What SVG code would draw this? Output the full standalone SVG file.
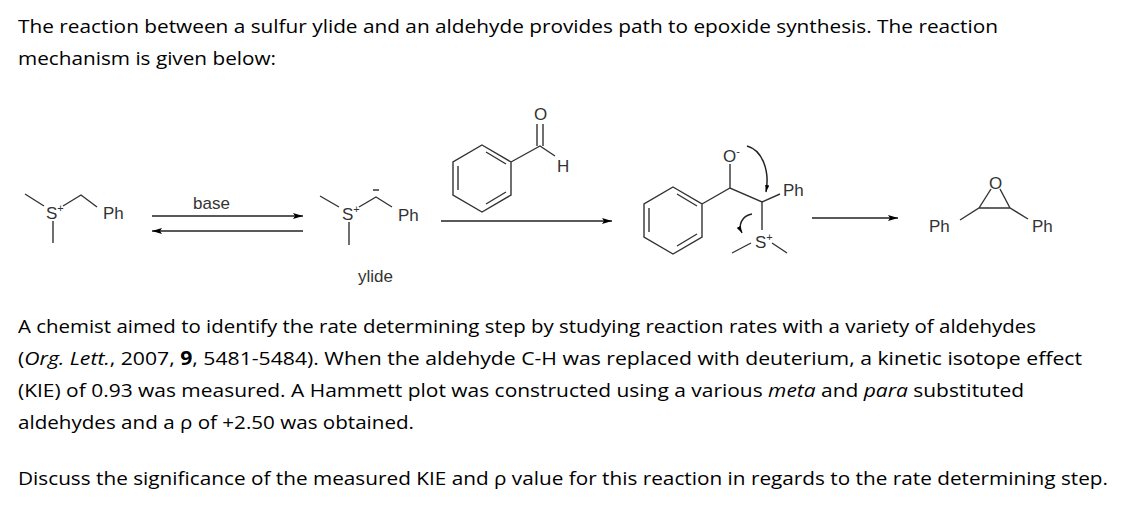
<svg xmlns="http://www.w3.org/2000/svg" width="1146" height="508" viewBox="0 0 1146 508">
<defs>
<marker id="ah" viewBox="0 0 10 6" refX="10" refY="3" markerWidth="10" markerHeight="6" orient="auto" markerUnits="userSpaceOnUse"><path d="M0,0 L10,3 L0,6 L2,3 Z" fill="#000"/></marker>
<marker id="ahs" viewBox="0 0 10 6" refX="10" refY="3" markerWidth="7" markerHeight="5" orient="auto" markerUnits="userSpaceOnUse"><path d="M0,0 L10,3 L0,6 Z" fill="#000"/></marker>
</defs>
<style>
.t{font-family:"Open Sans","Liberation Sans",sans-serif;font-size:19px;fill:#000}
.c{font-family:"Liberation Sans",Arial,sans-serif;font-size:17px;fill:#333}
.sup{font-size:11px}
.b{stroke:#333;stroke-width:1.4;fill:none}
.a{stroke:#222;stroke-width:1.5;fill:none}
</style>
<rect width="1146" height="508" fill="#fff"/>
<g id="intro">
<text class="t" x="18" y="33" textLength="980" lengthAdjust="spacingAndGlyphs">The reaction between a sulfur ylide and an aldehyde provides path to epoxide synthesis. The reaction</text>
<text class="t" x="18" y="65" textLength="258" lengthAdjust="spacingAndGlyphs">mechanism is given below:</text>
</g>
<g id="sulfonium">
<path class="b" d="M25,194 L44,206 M53,221 L53,243 M63,206 L81,195 L97,207"/>
<text class="c" x="46" y="219">S<tspan class="sup" dy="-7">+</tspan></text>
<text class="c" x="103" y="219">Ph</text>
</g>
<g id="ylide">
<path class="b" d="M320,196 L339,207 M349,222 L349,245 M359,207 L376,197 L392,207 M373,190 L379,190"/>
<text class="c" x="342" y="220">S<tspan class="sup" dy="-7">+</tspan></text>
<text class="c" x="398" y="221">Ph</text>
<text class="c" x="358" y="282">ylide</text>
</g>
<g id="benzaldehyde">
<path class="b" d="M482,145 L511,162 L511,195 L482,212 L453,195 L453,162 Z M486,152 L506,164 M506,192 L486,204 M458,190 L458,166 M511,162 L540,146 L555,156 M537,146 L537,124 M543,146 L543,124"/>
<text class="c" x="534" y="120">O</text>
<text class="c" x="557" y="172">H</text>
</g>
<g id="alkoxide">
<path class="b" d="M673,187 L702,204 L702,237 L673,254 L644,237 L644,204 Z M677,194 L697,206 M697,234 L677,246 M649,232 L649,208 M702,204 L730,188 L762,202 L780,194 M730,188 L730,164 M762,202 L762,230 M732,253 L751,243 M772,243 L787,253"/>
<text class="c" x="723" y="162">O<tspan class="sup" dy="-7">-</tspan></text>
<text class="c" x="783" y="196">Ph</text>
<text class="c" x="755" y="248">S<tspan class="sup" dy="-7">+</tspan></text>
<path class="a" d="M747,146 C762,150 770,170 766,192" marker-end="url(#ahs)"/>
<path class="a" d="M752,214 C741,216 738,226 742,233" marker-end="url(#ahs)"/>
</g>
<g id="epoxide">
<path class="b" d="M960,220 L979,208 L1010,208 L1028,219 M979,208 L991,189 M1010,208 L1000,189"/>
<text class="c" x="989" y="189">O</text>
<text class="c" x="929" y="232">Ph</text>
<text class="c" x="1032" y="232">Ph</text>
</g>
<g id="connectors">
<line class="a" x1="152" y1="216" x2="303" y2="216" marker-end="url(#ah)"/>
<line class="a" x1="303" y1="231" x2="152" y2="231" marker-end="url(#ah)"/>
<text class="c" x="193" y="209">base</text>
<line class="a" x1="441" y1="221" x2="612" y2="221" marker-end="url(#ah)"/>
<line class="a" x1="812" y1="218" x2="898" y2="218" marker-end="url(#ah)"/>
</g>
<g id="question">
<text class="t" x="18" y="333" textLength="1018" lengthAdjust="spacingAndGlyphs">A chemist aimed to identify the rate determining step by studying reaction rates with a variety of aldehydes</text>
<text class="t" x="18" y="365" textLength="1064" lengthAdjust="spacingAndGlyphs">(<tspan font-style="italic">Org. Lett.</tspan>, 2007, <tspan font-weight="bold">9</tspan>, 5481-5484). When the aldehyde C-H was replaced with deuterium, a kinetic isotope effect</text>
<text class="t" x="18" y="397" textLength="1006" lengthAdjust="spacingAndGlyphs">(KIE) of 0.93 was measured. A Hammett plot was constructed using a various <tspan font-style="italic">meta</tspan> and <tspan font-style="italic">para</tspan> substituted</text>
<text class="t" x="18" y="429" textLength="396" lengthAdjust="spacingAndGlyphs">aldehydes and a ρ of +2.50 was obtained.</text>
<text class="t" x="18" y="485" textLength="1090" lengthAdjust="spacingAndGlyphs">Discuss the significance of the measured KIE and ρ value for this reaction in regards to the rate determining step.</text>
</g>
</svg>
